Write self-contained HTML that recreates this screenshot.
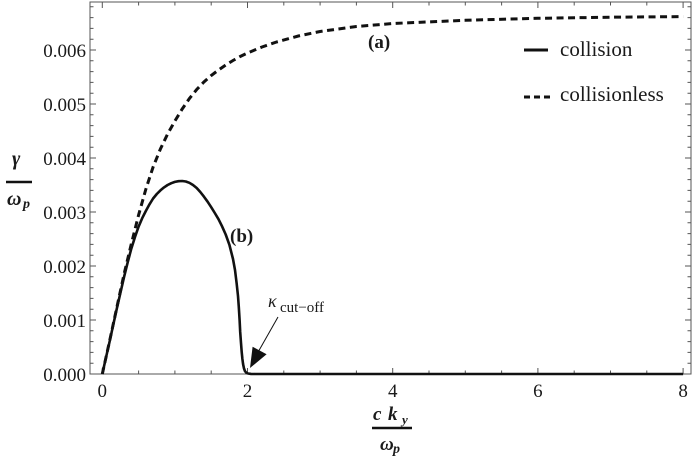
<!DOCTYPE html>
<html>
<head>
<meta charset="utf-8">
<style>
html,body{margin:0;padding:0;background:#fff;}
svg{display:block;}
text{font-family:"Liberation Serif","Times New Roman",serif;fill:#1a1a1a;}
.tl{font-size:19px;}
.bi{font-weight:bold;font-style:italic;}
</style>
</head>
<body>
<svg width="700" height="463" viewBox="0 0 700 463" xmlns="http://www.w3.org/2000/svg">
<rect x="0" y="0" width="700" height="463" fill="#fff"/>
<!-- frame -->
<rect x="90" y="2" width="601" height="372" fill="none" stroke="#555" stroke-width="1"/>
<!-- ticks -->
<g stroke="#555" stroke-width="1" fill="none">
<path d="M90,374h6M90,363.2h3.5M90,352.4h3.5M90,341.6h3.5M90,330.8h3.5M90,320h6M90,309.2h3.5M90,298.4h3.5M90,287.6h3.5M90,276.8h3.5M90,266h6M90,255.2h3.5M90,244.4h3.5M90,233.6h3.5M90,222.8h3.5M90,212h6M90,201.2h3.5M90,190.4h3.5M90,179.6h3.5M90,168.8h3.5M90,158h6M90,147.2h3.5M90,136.4h3.5M90,125.6h3.5M90,114.8h3.5M90,104h6M90,93.2h3.5M90,82.4h3.5M90,71.6h3.5M90,60.8h3.5M90,50h6M90,39.2h3.5M90,28.4h3.5M90,17.6h3.5M90,6.8h3.5"/>
<path d="M691,374h-6M691,363.2h-3.5M691,352.4h-3.5M691,341.6h-3.5M691,330.8h-3.5M691,320h-6M691,309.2h-3.5M691,298.4h-3.5M691,287.6h-3.5M691,276.8h-3.5M691,266h-6M691,255.2h-3.5M691,244.4h-3.5M691,233.6h-3.5M691,222.8h-3.5M691,212h-6M691,201.2h-3.5M691,190.4h-3.5M691,179.6h-3.5M691,168.8h-3.5M691,158h-6M691,147.2h-3.5M691,136.4h-3.5M691,125.6h-3.5M691,114.8h-3.5M691,104h-6M691,93.2h-3.5M691,82.4h-3.5M691,71.6h-3.5M691,60.8h-3.5M691,50h-6M691,39.2h-3.5M691,28.4h-3.5M691,17.6h-3.5M691,6.8h-3.5"/>
<path d="M102.3,374v-6M138.6,374v-3.5M174.9,374v-3.5M211.2,374v-3.5M247.5,374v-6M283.8,374v-3.5M320.1,374v-3.5M356.4,374v-3.5M392.7,374v-6M429,374v-3.5M465.3,374v-3.5M501.6,374v-3.5M537.9,374v-6M574.2,374v-3.5M610.5,374v-3.5M646.8,374v-3.5M683.1,374v-6"/>
<path d="M102.3,2v6M138.6,2v3.5M174.9,2v3.5M211.2,2v3.5M247.5,2v6M283.8,2v3.5M320.1,2v3.5M356.4,2v3.5M392.7,2v6M429,2v3.5M465.3,2v3.5M501.6,2v3.5M537.9,2v6M574.2,2v3.5M610.5,2v3.5M646.8,2v3.5M683.1,2v6"/>
</g>
<!-- y tick labels -->
<g class="tl" text-anchor="end">
<text x="86" y="381">0.000</text>
<text x="86" y="327">0.001</text>
<text x="86" y="273">0.002</text>
<text x="86" y="219">0.003</text>
<text x="86" y="165">0.004</text>
<text x="86" y="111">0.005</text>
<text x="86" y="57">0.006</text>
</g>
<!-- x tick labels -->
<g class="tl" text-anchor="middle">
<text x="102.3" y="397">0</text>
<text x="247.5" y="397">2</text>
<text x="392.7" y="397">4</text>
<text x="537.9" y="397">6</text>
<text x="683.1" y="397">8</text>
</g>
<!-- collisionless dashed curve -->
<polyline fill="none" stroke="#111" stroke-width="3" stroke-dasharray="7 4.5"
points="102.3,374 109.6,341 116.8,307.6 124.1,274 131.3,244 138.6,215 145.9,189 153.1,167 160.4,149 167.6,134 174.9,121 182.2,109 189.4,98.5 196.7,89.5 203.9,82 211.2,75.5 218.5,70 225.7,65 233,60.5 240.2,56.5 247.5,53 262,47 276.5,42 298.3,36 320.1,31.5 356.4,26.5 392.7,23.5 465.3,20.3 537.9,18.3 610.5,17.2 683.1,16.6"/>
<!-- collision solid curve -->
<polyline fill="none" stroke="#111" stroke-width="2.6" stroke-linejoin="round"
points="102.3,374 106,357.5 109.6,341.6 113.2,325 116.8,308.7 120.5,292.5 124.1,276.8 127.7,262.3 131.3,248.7 135,237 138.6,226.6 142.2,218.2 145.9,210.9 149.5,204.3 153.1,198.5 156.8,194 160.4,190.4 164,187.4 167.6,185 171.3,183.2 174.9,181.9 178.5,181.2 182.2,181 185.8,181.5 189.4,182.8 193,185 196.7,188 200.3,192 203.9,196.6 207.6,201.7 211.2,207.2 214.8,213 218.5,219.2 222,226.2 225.7,234.5 229.4,244.8 233,259 235,270 236.6,283 238,296 238.8,307 239.6,320 240.2,332 241,343 241.7,352 242.4,359 243.1,364.2 244,368.5 245,371.2 246.3,372.7 248,373.5 251,373.9 255,374 683.1,374"/>
<!-- legend -->
<line x1="524" y1="50" x2="548" y2="50" stroke="#111" stroke-width="3"/>
<text x="560" y="56" style="font-size:21px">collision</text>
<line x1="524" y1="97" x2="551" y2="97" stroke="#111" stroke-width="3" stroke-dasharray="6 4"/>
<text x="560" y="101" style="font-size:21px">collisionless</text>
<!-- labels (a), (b) -->
<text x="368" y="48" style="font-size:19px;font-weight:bold">(a)</text>
<text x="230" y="242" style="font-size:19px;font-weight:bold">(b)</text>
<!-- K cut-off -->
<text x="268" y="307" style="font-size:18px;font-style:italic">κ</text>
<text x="280" y="312" style="font-size:15px">cut−off</text>
<line x1="278" y1="317" x2="257" y2="354" stroke="#111" stroke-width="1"/>
<polygon points="250,368 252.6,346.7 266.6,354.3" fill="#111"/>
<!-- y axis label -->
<text x="12" y="165" class="bi" style="font-size:20px">γ</text>
<line x1="6" y1="182" x2="32" y2="182" stroke="#111" stroke-width="2.5"/>
<text x="7" y="205" class="bi" style="font-size:20px">ω</text>
<text x="23" y="208" class="bi" style="font-size:14px">p</text>
<!-- x axis label -->
<text x="373" y="420" class="bi" style="font-size:19px">c</text>
<text x="388" y="420" class="bi" style="font-size:19px">k</text>
<text x="402" y="424" class="bi" style="font-size:13px">y</text>
<line x1="372" y1="428" x2="412" y2="428" stroke="#111" stroke-width="2.5"/>
<text x="380" y="450" class="bi" style="font-size:19px">ω</text>
<text x="393" y="453" class="bi" style="font-size:14px">p</text>
</svg>
</body>
</html>
